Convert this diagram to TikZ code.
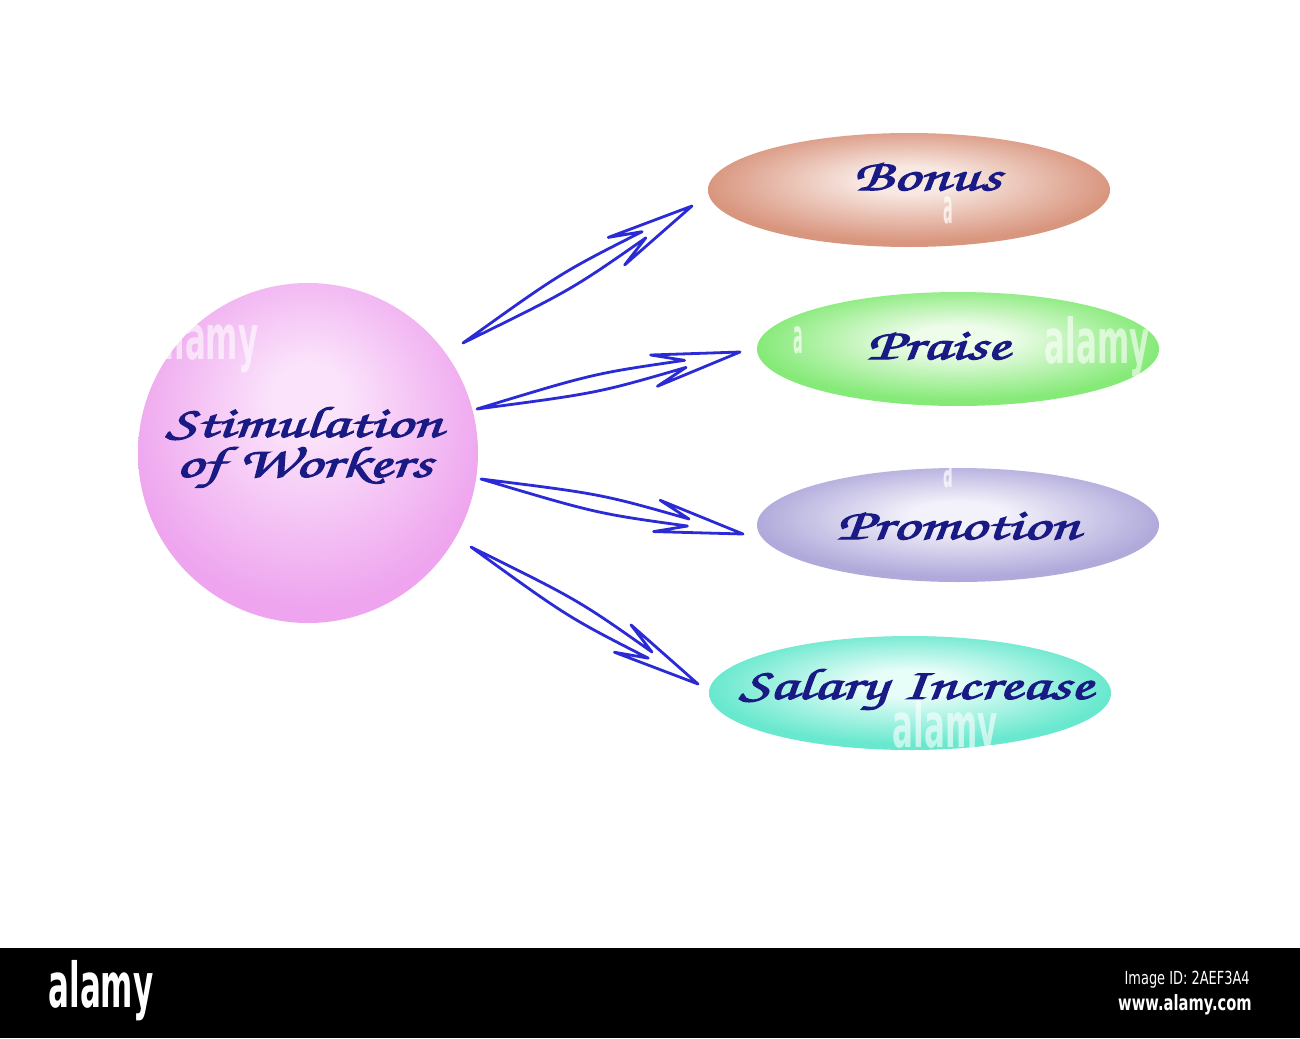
\documentclass[tikz,border=0pt]{standalone}
\usepackage[T1]{fontenc}
\usepackage{fontspec}
\usetikzlibrary{shapes.geometric,calc}
\newfontfamily\barfont{DejaVu Sans}
\newcommand\handfont{\fontencoding{T1}\fontfamily{pzc}\fontseries{mb}\fontshape{it}\selectfont}
\newcommand\bt[1]{\special{pdf:literal direct 2 Tr 0.5 w}#1\special{pdf:literal direct 0 Tr}}
\definecolor{txtblue}{HTML}{1A1A85}
\definecolor{arrblue}{HTML}{2B2BD6}
\definecolor{pinkin}{HTML}{FBE4FB}
\definecolor{pinkout}{HTML}{EEA4EE}
\definecolor{salin}{HTML}{F8E8E2}
\definecolor{salout}{HTML}{D9967F}
\definecolor{grnin}{HTML}{EEFCEA}
\definecolor{grnout}{HTML}{86EA78}
\definecolor{lavin}{HTML}{F3F1FA}
\definecolor{lavout}{HTML}{B0AADB}
\definecolor{aqin}{HTML}{E6FDF8}
\definecolor{aqout}{HTML}{68E8CE}
\pgfdeclareradialshading{pinkball}{\pgfpoint{0bp}{9bp}}{color(0bp)=(pinkin); color(5bp)=(pinkin); color(27bp)=(pinkout); color(50bp)=(pinkout)}
\pgfdeclareradialshading{salball}{\pgfpoint{0bp}{5bp}}{color(0bp)=(salin); color(6bp)=(salin); color(25bp)=(salout); color(50bp)=(salout)}
\pgfdeclareradialshading{grnball}{\pgfpoint{0bp}{5bp}}{color(0bp)=(grnin); color(6bp)=(grnin); color(25bp)=(grnout); color(50bp)=(grnout)}
\pgfdeclareradialshading{lavball}{\pgfpoint{0bp}{5bp}}{color(0bp)=(lavin); color(6bp)=(lavin); color(25bp)=(lavout); color(50bp)=(lavout)}
\pgfdeclareradialshading{aqball}{\pgfpoint{0bp}{5bp}}{color(0bp)=(aqin); color(6bp)=(aqin); color(25bp)=(aqout); color(50bp)=(aqout)}
\tikzset{
  oval/.style={ellipse, minimum width=201pt, minimum height=57pt, inner sep=0pt},
  lbl/.style={text=txtblue, font=\handfont\fontsize{22pt}{25pt}\selectfont, inner sep=0pt, xscale=1.5},
  arrowline/.style={draw=arrblue, line width=1.4pt, line join=round, line cap=round},
  logotxt/.style={inner sep=0pt, font=\barfont\bfseries\fontsize{31pt}{31pt}\selectfont, xscale=0.5},
  wmark/.style={logotxt, text=white, text opacity=0.6},
  wsmall/.style={wmark, font=\barfont\bfseries\fontsize{24pt}{24pt}\selectfont, xscale=0.6, text opacity=0.7},
}
\newcommand\handarrow[2]{%
  \draw[arrowline] (#1)
    .. controls ($(#2)!0.55!(#1)!5pt!90:(#1)$) .. ($(#2)!28pt!(#1)!1.8pt!90:(#1)$)
    -- ($(#2)!44pt!(#1)!8pt!90:(#1)$)
    -- (#2)
    -- ($(#2)!44pt!(#1)!8pt!-90:(#1)$)
    -- ($(#2)!28pt!(#1)!1.8pt!-90:(#1)$)
    .. controls ($(#2)!0.55!(#1)!5pt!-90:(#1)$) .. (#1);}
\begin{document}
\begin{tikzpicture}[x=0.5pt,y=-0.5pt]
  \useasboundingbox (0,0) rectangle (1300,1038);
  \fill[white] (0,0) rectangle (1300,1038);
  % main circle
  \node[circle, minimum size=170pt, inner sep=0pt, shading=pinkball] (circ) at (308,453) {};
  % ovals
  \node[oval, shading=salball] (bonus) at (909,190) {};
  \node[oval, shading=grnball] (praise) at (958,349) {};
  \node[oval, shading=lavball] (promo) at (958,525) {};
  \node[oval, shading=aqball] (salary) at (910,693) {};
  % faint watermarks
  \node[wmark] (wm1) at (206,343) {alamy};
  \node[wmark] (wm2) at (1097,347) {alamy};
  \node[wmark] (wm3) at (945,731) {alamy};
  \node[wsmall] (wm4) at (948,210) {a};
  \node[wsmall] (wm5) at (798,340) {a};
  \node[wsmall] (wm6) at (948,474) {a};
  % labels
  \node[lbl, align=center] (circtxt) at (304,448) {\bt{Stimulation}\\[-5pt]\bt{of Workers}};
  \node[lbl] (bonustxt) at (927,176) {\bt{Bonus}};
  \node[lbl] (praisetxt) at (938,346) {\bt{Praise}};
  \node[lbl] (promotxt) at (958,526) {\bt{Promotion}};
  \node[lbl] (salarytxt) at (916,690) {\bt{Salary Increase}};
  % arrow ends
  \coordinate (t1) at (463,343); \coordinate (h1) at (692,206);
  \coordinate (t2) at (477,409); \coordinate (h2) at (740,352);
  \coordinate (t3) at (481,479); \coordinate (h3) at (743,534);
  \coordinate (t4) at (471,547); \coordinate (h4) at (698,684);
  \handarrow{t1}{h1}
  \handarrow{t2}{h2}
  \handarrow{t3}{h3}
  \handarrow{t4}{h4}
  % bottom bar
  \fill[black] (0,948) rectangle (1300,1038);
  \node[logotxt, text=white] (logo) at (101,991) {alamy};
  \node[text=white, inner sep=0pt, anchor=east, font=\barfont\fontsize{9pt}{10pt}\selectfont, xscale=0.72] (imgid) at (1250,980) {Image ID: 2AEF3A4};
  \node[text=white, inner sep=0pt, anchor=east, font=\barfont\bfseries\fontsize{10.5pt}{12pt}\selectfont, xscale=0.7] (site) at (1252,1005) {www.alamy.com};
\end{tikzpicture}
\end{document}
